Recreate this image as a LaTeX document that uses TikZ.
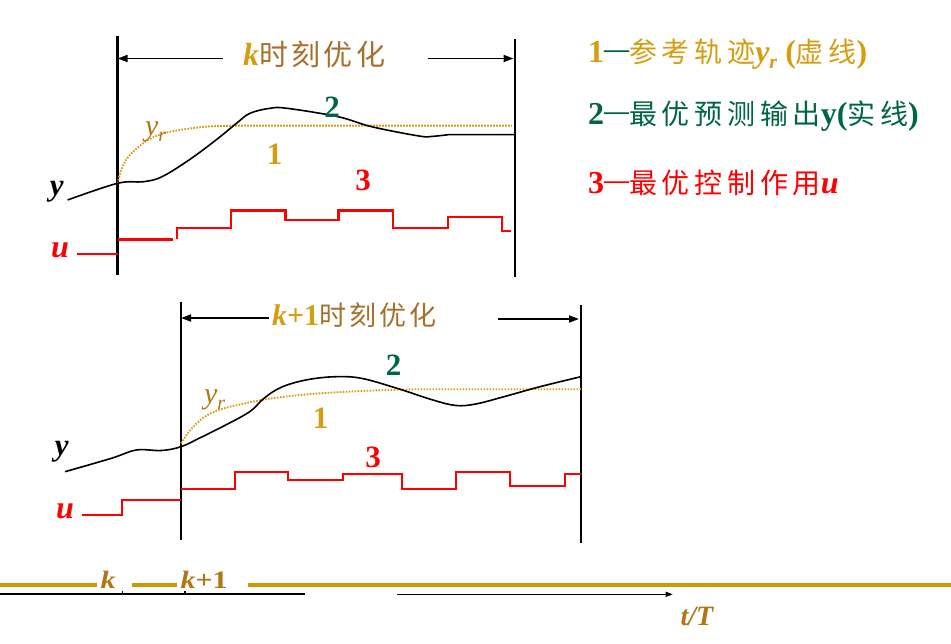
\documentclass[tikz,border=0pt]{standalone}
\usepackage{fontspec}
\setmainfont{Liberation Serif}
\newfontfamily\cjk[LetterSpace=17]{Noto Sans CJK SC}
\newfontfamily\axfont[FakeStretch=1.2]{Liberation Serif}
\usetikzlibrary{arrows.meta}
\definecolor{gold}{RGB}{212,157,18}
\definecolor{ttlbrown}{RGB}{165,112,42}
\definecolor{dgreen}{RGB}{0,100,70}
\definecolor{axgold}{RGB}{204,153,0}
\definecolor{klab}{RGB}{175,118,18}
\newcommand\fsz[1]{\fontsize{#1}{#1}\selectfont}
\tikzset{
  lbl/.style={inner sep=0pt, outer sep=0pt},
  bline/.style={line width=2.5pt, black},
  ycurve/.style={line width=1.6pt, black},
  yrcurve/.style={gold, line width=1.9pt, dash pattern=on 1.6pt off 1.4pt},
  ustep/.style={red, line width=2.2pt},
  harrow/.style={line width=1.8pt, -{Triangle[length=10pt,width=7pt]}},
  numlbl/.style={lbl, font=\fsz{31}\bfseries},
  varlbl/.style={lbl, font=\fsz{31}\bfseries\itshape},
}
\begin{document}
\begin{tikzpicture}[x=1pt,y=-1pt]
\useasboundingbox (0,0) rectangle (951,644);

% ---------------- top panel ----------------
\coordinate (L1t) at (117.6,36);
\coordinate (L1b) at (117.6,275);
\coordinate (R1t) at (515,39);
\coordinate (R1b) at (515,277);
\draw[bline] (L1t) -- (L1b);
\draw[bline] (R1t) -- (R1b);

\node[lbl, anchor=base west] (title1) at (243,66)
  {\fsz{32}\bfseries\itshape\textcolor{gold}{k}\textcolor{ttlbrown}{\cjk\mdseries\upshape\fsz{29}\addfontfeature{LetterSpace=12}时刻优化}};
\coordinate (A1l) at (223,58.5);
\coordinate (A1r) at (428,58.5);
\draw[harrow] (A1l) -- (A1l -| L1t);
\draw[harrow] (A1r) -- ([xshift=-1.5pt]A1r -| R1t);

% reference trajectory (dotted)
\draw[yrcurve] plot[smooth, tension=0.6] coordinates {(117.6,183.3) (120.5,172) (126,160) (136,149) (150,139) (169,132) (203,127) (235,125.7) (260,125.6)} -- (512,125.6);
% predicted output
\draw[ycurve] plot[smooth, tension=0.6] coordinates {(67.6,200) (117.6,183.3) (143.6,181.7) (162,176.7) (189,160) (216,140) (236.5,123.3) (250,113.3) (270,108.3) (287,108.3) (338,116.7) (371.6,126.7) (419,136) (432,136.4) (449,134.6)} -- (514.5,134.6);
% control
\draw[ustep] (76.7,254) -- (117.6,254);
\draw[ustep] (117.6,239.5) -- (172.7,239.5);
\draw[ustep] (176.7,239.5) -- (176.7,227.7) -- (231,227.7) -- (231,210.5) -- (285.5,210.5) -- (285.5,219.7) -- (338.5,219.7) -- (338.5,210.5) -- (393,210.5) -- (393,227.7) -- (448,227.7) -- (448,217) -- (501.7,217) -- (501.7,230.7) -- (510.7,230.7);

\node[varlbl, black] (ylab1) at (56.7,191.7) {y};
\node[varlbl, red, font=\fsz{32}\bfseries\itshape] (ulab1) at (60,250) {u};
\node[lbl, klab, anchor=base west, font=\fsz{30}\itshape] (yr1) at (145,136) {y\raisebox{-6pt}{\fsz{20}r}};
\node[numlbl, gold] (n1a) at (274.5,154) {1};
\node[numlbl, dgreen] (n2a) at (332,107.5) {2};
\node[numlbl, red] (n3a) at (363,180) {3};

% ---------------- bottom panel ----------------
\coordinate (L2t) at (181,301.7);
\coordinate (L2b) at (181,540);
\coordinate (R2t) at (581,305);
\coordinate (R2b) at (581,543);
\draw[bline] (L2t) -- (L2b);
\draw[bline] (R2t) -- (R2b);

\node[lbl, anchor=base west] (title2) at (272,326)
  {\fsz{30}\bfseries\textcolor{gold}{\itshape k}\textcolor{gold}{+1}\textcolor{ttlbrown}{\cjk\mdseries\fsz{27}\addfontfeature{LetterSpace=12}时刻优化}};
\coordinate (A2l) at (268.6,318);
\coordinate (A2r) at (498,319);
\draw[harrow] (A2l) -- (A2l -| L2t);
\draw[harrow] (A2r) -- ([xshift=-2pt]A2r -| R2t);

\draw[yrcurve] plot[smooth, tension=0.6] coordinates {(181,443.3) (188,433) (196,424) (206,416) (220,409.5) (240,404.5) (268.6,398.8) (311.4,394) (361.4,391) (415,389.3)} -- (581,389.2);
\draw[ycurve] plot[smooth, tension=0.6] coordinates {(65,471.7) (111.4,458.3) (136.4,450) (161.4,450.5) (181,446.7) (200.7,437.5) (225.7,425) (250,411.5) (262,400) (275,390.5) (290,384) (311.4,379) (336.4,376.7) (361.4,378.3) (397,388.3) (432.9,400) (456,405.5) (475.7,404) (504,396.7) (540,386.7) (581,376.7)};
\draw[ustep] (81.7,515) -- (122.3,515) -- (122.3,500) -- (181,500);
\draw[ustep] (181,489) -- (234.6,489) -- (234.6,471.7) -- (288,471.7) -- (288,480) -- (343,480) -- (343,473.7) -- (401.8,473.7) -- (401.8,489) -- (456,489) -- (456,471.7) -- (510,471.7) -- (510,486) -- (565,486) -- (565,473.7) -- (581,473.7);

\node[varlbl, black] (ylab2) at (61.7,451.7) {y};
\node[varlbl, red, font=\fsz{32}\bfseries\itshape] (ulab2) at (65,511.7) {u};
\node[lbl, klab, anchor=base west, font=\fsz{30}\itshape] (yr2) at (204,403) {y\raisebox{-6pt}{\fsz{20}r}};
\node[numlbl, gold] (n1b) at (320.5,418) {1};
\node[numlbl, dgreen] (n2b) at (393.5,365) {2};
\node[numlbl, red] (n3b) at (373,457.5) {3};

% ---------------- legend ----------------
\node[lbl, anchor=base west] (leg1) at (588,63)
  {\fsz{32}\bfseries\textcolor{gold}{1}\textcolor{dgreen}{\raisebox{5pt}{\fsz{25}—}}\textcolor{gold}{{\cjk\mdseries\fsz{28}参考轨迹}{\itshape y\raisebox{-6pt}{\fsz{20}r}} ({\cjk\mdseries\fsz{28}虚线})}};
\node[lbl, anchor=base west, dgreen] (leg2) at (588,125)
  {\fsz{32}\bfseries 2\raisebox{5pt}{\fsz{25}—}{\cjk\mdseries\fsz{28}最优预测输出}y({\cjk\mdseries\fsz{28}实线})};
\node[lbl, anchor=base west, red] (leg3) at (588,194)
  {\fsz{32}\bfseries 3\raisebox{5pt}{\fsz{25}—}{\cjk\mdseries\fsz{28}最优控制作用}{\itshape u}};

% ---------------- time axis ----------------
\coordinate (G0) at (0,585);
\coordinate (G1) at (96.7,585);
\coordinate (G2) at (131.7,585);
\coordinate (G3) at (176.7,585);
\coordinate (G4) at (248.3,585);
\coordinate (G5) at (951,585);
\draw[axgold, line width=3.5pt] (G0) -- (G1);
\draw[axgold, line width=3.5pt] (G2) -- (G3);
\draw[axgold, line width=3.5pt] (G4) -- (G5);

\coordinate (B0) at (0,594.3);
\coordinate (B1) at (305,594.3);
\coordinate (T1) at (122.3,594.3);
\coordinate (T2) at (185,594.3);
\draw[black, line width=2pt] (B0) -- (B1);
\draw[black, line width=1.2pt] (T1) -- ++(0,-3.5);
\draw[black, line width=1.2pt] (T2) -- ++(0,-3.5);

\node[lbl, anchor=base west, klab] (kax) at (100.5,588.5) {\axfont\fsz{25}\bfseries\itshape k};
\node[lbl, anchor=base west, klab] (k1ax) at (180.5,588.5) {\axfont\fsz{25}\bfseries{\itshape k}+1};

\coordinate (X0) at (397.3,594.3);
\coordinate (X1) at (672.7,594.3);
\draw[black, line width=1.3pt, -{Triangle[length=7pt,width=5pt]}] (X0) -- (X1);
\node[lbl, klab, font=\fsz{28}\bfseries\itshape] (tT) at (697,616) {t/T};
\end{tikzpicture}
\end{document}
